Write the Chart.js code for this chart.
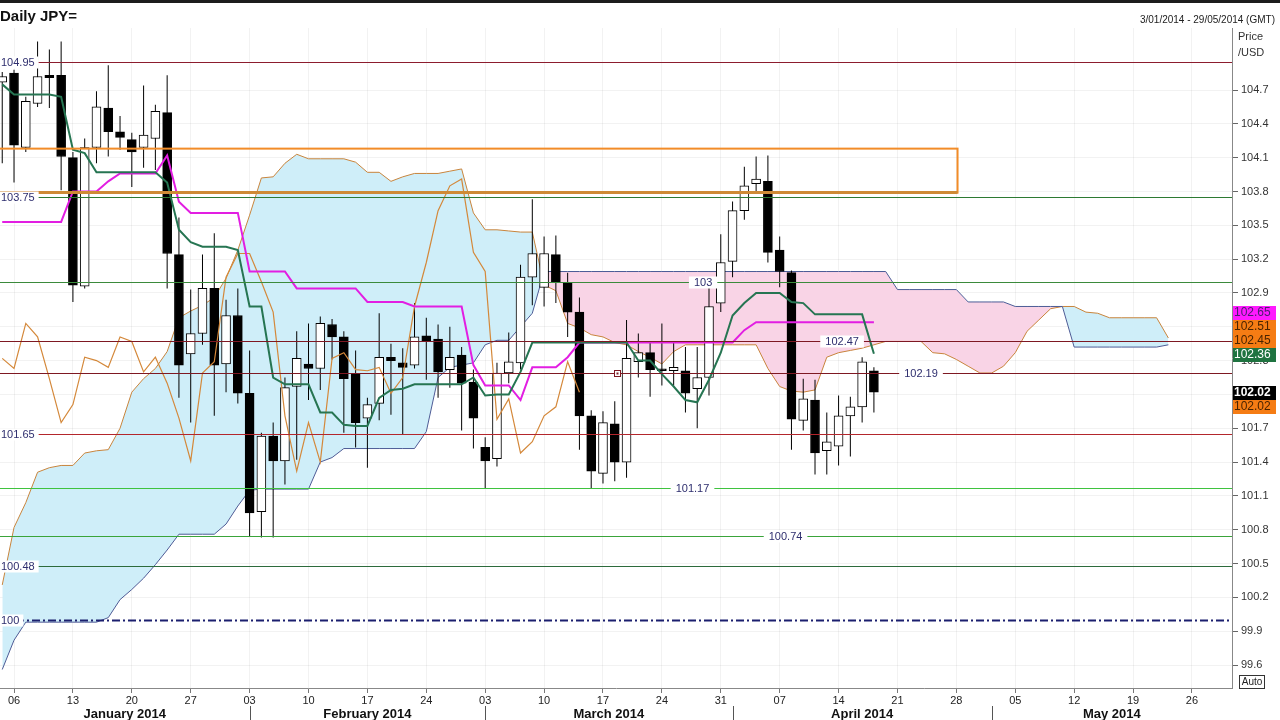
<!DOCTYPE html>
<html>
<head>
<meta charset="utf-8">
<script src="https://cdn.jsdelivr.net/npm/chart.js@4.4.1/dist/chart.umd.min.js"></script>
<style>
  body { margin: 0; background: #fff; }
  #wrap { width: 1280px; height: 720px; }
</style>
</head>
<body>
<div id="wrap"><canvas id="myChart"></canvas></div>
<script>
// daily candles, trading day 0 = 3 Jan 2014 ... 74 = 17 Apr 2014
const opens = [
  104.77, 104.85, 104.19, 104.58, 104.83, 104.83, 104.10, 102.96, 104.19, 104.54,
  104.33, 104.26, 104.19, 104.27, 104.50, 103.24, 102.36, 102.54, 102.94, 102.27,
  102.70, 102.01, 100.96, 101.63, 101.41, 102.07, 102.27, 102.23, 102.62, 102.51,
  102.18, 101.79, 101.92, 102.33, 102.28, 102.26, 102.52, 102.49, 102.22, 102.35,
  102.11, 101.53, 101.43, 102.19, 102.28, 103.04, 102.95, 103.24, 102.99, 102.73,
  101.81, 101.30, 101.74, 101.40, 102.29, 102.37, 102.22, 102.21, 102.21, 102.05,
  102.15, 102.81, 103.18, 103.63, 103.87, 103.89, 103.28, 103.08, 101.77, 101.95,
  101.50, 101.54, 101.81, 101.89, 102.21
]
const highs = [
  104.86, 104.88, 104.64, 105.13, 105.06, 105.13, 104.15, 104.27, 104.69, 104.92,
  104.47, 104.32, 104.74, 104.57, 104.83, 103.57, 102.93, 103.24, 103.43, 102.84,
  102.94, 102.39, 101.66, 101.75, 102.15, 102.56, 102.63, 102.69, 102.67, 102.56,
  102.39, 101.97, 102.72, 102.45, 102.41, 102.81, 102.68, 102.62, 102.60, 102.42,
  102.22, 101.62, 102.28, 102.55, 103.15, 103.73, 103.40, 103.41, 103.08, 102.86,
  101.86, 101.85, 101.94, 102.66, 102.54, 102.46, 102.63, 102.47, 102.42, 102.42,
  102.99, 103.42, 103.71, 104.02, 104.11, 104.12, 103.40, 103.10, 102.14, 102.13,
  101.84, 101.99, 101.98, 102.33, 102.24
]
const lows = [
  104.05, 103.88, 104.15, 104.55, 104.54, 103.81, 102.82, 102.94, 104.05, 104.11,
  104.17, 103.84, 104.01, 103.99, 102.94, 101.97, 101.75, 102.44, 101.81, 102.02,
  101.92, 100.74, 100.73, 100.73, 101.20, 101.42, 101.95, 102.04, 102.31, 101.66,
  101.53, 101.35, 101.77, 101.82, 101.64, 102.23, 102.13, 101.97, 102.06, 101.68,
  101.52, 101.17, 101.36, 102.10, 102.22, 102.79, 102.78, 102.81, 102.51, 101.51,
  101.17, 101.21, 101.23, 101.26, 102.15, 101.98, 102.08, 102.08, 101.84, 101.70,
  101.99, 102.73, 103.04, 103.55, 103.79, 103.17, 102.95, 101.51, 101.68, 101.29,
  101.29, 101.37, 101.45, 101.75, 101.84
]
const closes = [
  104.82, 104.21, 104.60, 104.82, 104.81, 104.11, 102.97, 104.19, 104.55, 104.33,
  104.28, 104.15, 104.30, 104.51, 103.25, 102.26, 102.54, 102.94, 102.26, 102.70,
  102.01, 100.95, 101.63, 101.41, 102.06, 102.32, 102.23, 102.63, 102.51, 102.14,
  101.75, 101.91, 102.33, 102.30, 102.24, 102.51, 102.47, 102.20, 102.33, 102.10,
  101.79, 101.41, 102.19, 102.29, 103.04, 103.25, 103.25, 103.00, 102.73, 101.81,
  101.32, 101.75, 101.40, 102.32, 102.37, 102.22, 102.21, 102.24, 102.01, 102.15,
  102.78, 103.17, 103.63, 103.85, 103.91, 103.26, 103.09, 101.78, 101.96, 101.48,
  101.58, 101.81, 101.89, 102.29, 102.02
]

// ichimoku lines as drawn
const tenkan = [
  104.75, 104.66, 104.66, 104.66, 104.66, 104.64, 104.17, 104.14, 103.97, 103.97,
  103.97, 103.97, 103.97, 103.97, 103.88, 103.46, 103.35, 103.31, 103.31, 103.31,
  103.28, 102.78, 102.78, 102.15, 102.09, 102.09, 102.09, 101.84, 101.84, 101.73,
  101.72, 101.72, 101.97, 102.04, 102.05, 102.09, 102.09, 102.09, 102.09, 102.09,
  102.15, 101.99, 102.00, 102.00, 102.20, 102.46, 102.46, 102.46, 102.46, 102.46,
  102.46, 102.46, 102.46, 102.46, 102.30, 102.30, 102.18, 102.07, 101.95, 101.93,
  102.13, 102.37, 102.70, 102.81, 102.90, 102.90, 102.90, 102.82, 102.81, 102.71,
  102.71, 102.71, 102.71, 102.71, 102.36
]
const kijun = [
  103.53, 103.53, 103.53, 103.53, 103.53, 103.53, 103.80, 103.80, 103.80, 103.89,
  103.96, 103.96, 103.96, 103.96, 104.12, 103.71, 103.61, 103.61, 103.61, 103.61,
  103.61, 103.09, 103.09, 103.09, 103.09, 102.94, 102.94, 102.94, 102.94, 102.94,
  102.94, 102.82, 102.82, 102.82, 102.82, 102.78, 102.78, 102.78, 102.78, 102.78,
  102.26, 102.08, 102.08, 102.08, 101.95, 102.24, 102.24, 102.24, 102.33, 102.46,
  102.46, 102.46, 102.46, 102.46, 102.46, 102.46, 102.46, 102.46, 102.46, 102.46,
  102.46, 102.46, 102.46, 102.57, 102.64, 102.64, 102.64, 102.64, 102.64, 102.64,
  102.64, 102.64, 102.64, 102.64, 102.64
]
const senkouA = [
  100.31, 100.82, 101.04, 101.31, 101.35, 101.37, 101.37, 101.48, 101.50, 101.51,
  101.70, 102.02, 102.14, 102.23, 102.38, 102.68, 102.74, 102.79, 102.86, 103.03,
  103.28, 103.59, 103.92, 103.93, 104.05, 104.13, 104.09, 104.09, 104.09, 104.09,
  104.06, 103.97, 103.97, 103.89, 103.93, 103.96, 103.96, 103.96, 103.98, 104.00,
  103.61, 103.46, 103.46, 103.45, 103.44, 103.44, 102.97, 102.92, 102.63, 102.59,
  102.53, 102.51, 102.46, 102.44, 102.38, 102.33, 102.27, 102.38, 102.44, 102.44,
  102.44, 102.44, 102.44, 102.44, 102.44, 102.23, 102.07, 102.03, 102.02, 102.04,
  102.33, 102.37, 102.39, 102.41, 102.44, 102.47, 102.47, 102.47, 102.47, 102.37,
  102.36, 102.31, 102.25, 102.19, 102.19, 102.25, 102.37, 102.56, 102.66, 102.76,
  102.78, 102.78, 102.73, 102.72, 102.68, 102.68, 102.68, 102.68, 102.68, 102.50
]
const senkouB = [
  99.56, 99.82, 99.98, 99.98, 99.98, 99.98, 99.98, 99.98, 99.98, 100.02,
  100.18, 100.27, 100.37, 100.49, 100.62, 100.76, 100.76, 100.76, 100.76, 100.85,
  101.01, 101.15, 101.16, 101.16, 101.16, 101.16, 101.16, 101.40, 101.44, 101.52,
  101.52, 101.52, 101.52, 101.52, 101.52, 101.52, 101.67, 102.15, 102.24, 102.26,
  102.28, 102.44, 102.48, 102.48, 102.60, 102.72, 103.09, 103.09, 103.09, 103.09,
  103.09, 103.09, 103.09, 103.09, 103.09, 103.09, 103.09, 103.09, 103.09, 103.09,
  103.09, 103.09, 103.09, 103.09, 103.09, 103.09, 103.09, 103.09, 103.09, 103.09,
  103.09, 103.09, 103.09, 103.09, 103.09, 103.09, 102.93, 102.93, 102.93, 102.93,
  102.93, 102.93, 102.82, 102.82, 102.82, 102.82, 102.78, 102.78, 102.78, 102.78,
  102.78, 102.42, 102.42, 102.42, 102.42, 102.42, 102.42, 102.42, 102.42, 102.44
]
const chikouShift = 25

const weekTicks = [1, 6, 11, 16, 21, 26, 31, 36, 41, 46, 51, 56, 61, 66, 71, 76, 81, 86, 91, 96, 101]
const weekLabels = ['06', '13', '20', '27', '03', '10', '17', '24', '03', '10', '17', '24', '31', '07', '14', '21', '28', '05', '12', '19', '26']
const monthStarts = [21, 41, 62, 84]
const monthNames = ['January 2014', 'February 2014', 'March 2014', 'April 2014', 'May 2014']
const priceTicks = [99.6, 99.9, 100.2, 100.5, 100.8, 101.1, 101.4, 101.7, 102.0, 102.3, 102.6, 102.9, 103.2, 103.5, 103.8, 104.1, 104.4, 104.7]

const levelValues = [104.95, 103.75, 103, 102.47, 102.19, 101.65, 101.17, 100.74, 100.48, 100]
const boxTop = 104.18
const boxBottom = 103.79
const boxEndDay = 81.1
const badgeValues = [102.65, 102.51, 102.45, 102.36, 102.02, 102.02]

const FONT = '"Liberation Sans", Arial, sans-serif'
const NARROW = '"Liberation Sans Narrow", "Liberation Sans", Arial, sans-serif'

// line look for each level, same order as levelValues (at = day index of label, -1 = left edge)
const levelLook = [
  { color: '#8c1d2e', at: -1 },
  { color: '#2d7a32', at: -1 },
  { color: '#3b8a3b', at: 59.5 },
  { color: '#7e1822', at: 71.3 },
  { color: '#7e1822', at: 78 },
  { color: '#b3262c', at: -1 },
  { color: '#3fc33f', at: 58.6 },
  { color: '#3aa43a', at: 66.5 },
  { color: '#2d6b3c', at: -1 },
  { color: '#1b1f6e', at: -1, dash: [8, 3, 2, 3], width: 2 }
]
const badgeFill = ['#ff1aff', '#f57c14', '#f57c14', '#1f7340', '#000000', '#f57c14']
const badgeInk = ['#4a2070', '#4a2400', '#4a2400', '#ffffff', '#ffffff', '#4a2400']

const pts = (arr) => arr.map((v, i) => ({ x: i, y: v }))

const decor = {
  id: 'decor',
  afterDatasetsDraw(chart) {
    const { ctx, chartArea: a, scales: { x, y } } = chart
    ctx.save()
    ctx.beginPath()
    ctx.rect(a.left, a.top, a.right - a.left, a.bottom - a.top)
    ctx.clip()

    // orange box
    const bx = x.getPixelForValue(boxEndDay)
    const t = y.getPixelForValue(boxTop)
    const b = y.getPixelForValue(boxBottom)
    ctx.strokeStyle = '#f28c28'
    ctx.lineWidth = 2
    ctx.strokeRect(a.left - 3, t, bx - a.left + 3, b - t)
    ctx.strokeStyle = '#cf8a36'
    ctx.lineWidth = 3
    ctx.beginPath(); ctx.moveTo(a.left, b); ctx.lineTo(bx, b); ctx.stroke()

    ctx.font = '11px ' + FONT
    ctx.textBaseline = 'middle'
    levelValues.forEach((v, i) => {
      const look = levelLook[i]
      const py = Math.round(y.getPixelForValue(v)) + 0.5
      ctx.strokeStyle = look.color
      ctx.lineWidth = look.width || 1
      ctx.setLineDash(look.dash || [])
      ctx.beginPath(); ctx.moveTo(a.left, py); ctx.lineTo(a.right, py); ctx.stroke()
      ctx.setLineDash([])
      const txt = String(v)
      const w = ctx.measureText(txt).width
      ctx.fillStyle = '#fff'
      if (look.at < 0) {
        ctx.fillRect(a.left, py - 6, w + 5, 12)
        ctx.fillStyle = '#2e2e6e'
        ctx.textAlign = 'left'
        ctx.fillText(txt, a.left + 1, py)
      } else {
        const px = x.getPixelForValue(look.at)
        ctx.fillRect(px - w / 2 - 5, py - 6, w + 10, 12)
        ctx.fillStyle = '#2e2e6e'
        ctx.textAlign = 'center'
        ctx.fillText(txt, px, py)
      }
    })

    // small anchor handle on the 102.19 line
    const hx = Math.round(x.getPixelForValue(52.2)) + 0.5
    const hy = Math.round(y.getPixelForValue(102.19)) + 0.5
    ctx.fillStyle = '#fff'
    ctx.fillRect(hx - 3, hy - 3, 6, 6)
    ctx.strokeStyle = '#7e1822'
    ctx.lineWidth = 1
    ctx.strokeRect(hx - 3, hy - 3, 6, 6)
    ctx.fillStyle = '#7e1822'
    ctx.fillRect(hx - 1, hy - 1, 2, 2)
    ctx.restore()
  },
  afterDraw(chart) {
    const { ctx, chartArea: a, scales: { x, y } } = chart
    ctx.save()
    ctx.fillStyle = '#1c1c1c'
    ctx.fillRect(0, 0, 1280, 3)

    ctx.textBaseline = 'middle'
    ctx.fillStyle = '#111'
    ctx.font = 'bold 15px ' + FONT
    ctx.textAlign = 'left'
    ctx.fillText('Daily JPY=', 0, 17)
    ctx.font = '10px ' + FONT
    ctx.textAlign = 'right'
    ctx.fillStyle = '#222'
    ctx.fillText('3/01/2014 - 29/05/2014 (GMT)', 1275, 20)

    ctx.textAlign = 'left'
    ctx.font = '11px ' + FONT
    ctx.fillStyle = '#333'
    ctx.fillText('Price', a.right + 6, 37)
    ctx.fillText('/USD', a.right + 6, 53)

    // value badges: last price anchored, higher ones stack up, equal ones hang below
    const ys = badgeValues.map(v => y.getPixelForValue(v))
    const pos = []
    const anchor = 4
    pos[anchor] = ys[anchor] + 1
    for (let i = anchor - 1; i >= 0; i--) pos[i] = Math.min(ys[i] + 1, pos[i + 1] - 14)
    for (let i = anchor + 1; i < ys.length; i++) pos[i] = Math.max(ys[i], pos[i - 1] + 14)
    badgeValues.forEach((v, i) => {
      ctx.fillStyle = badgeFill[i]
      ctx.fillRect(a.right + 1, Math.round(pos[i]) - 7, 43, 14)
      ctx.fillStyle = badgeInk[i]
      ctx.font = (i === anchor ? 'bold ' : '') + '12px ' + FONT
      ctx.fillText(v.toFixed(2), a.right + 2, Math.round(pos[i]))
    })

    // month separators and names
    const seps = [a.left].concat(monthStarts.map(d => x.getPixelForValue(d)), [a.right])
    ctx.strokeStyle = '#555'
    ctx.lineWidth = 1
    monthStarts.forEach(d => {
      const px = Math.round(x.getPixelForValue(d)) + 0.5
      ctx.beginPath(); ctx.moveTo(px, 706); ctx.lineTo(px, 720); ctx.stroke()
    })
    ctx.font = 'bold 13px ' + FONT
    ctx.fillStyle = '#111'
    ctx.textAlign = 'center'
    monthNames.forEach((m, i) => {
      ctx.fillText(m, (seps[i] + seps[i + 1]) / 2, 714)
    })

    // Auto box
    ctx.strokeStyle = '#333'
    ctx.strokeRect(a.right + 7.5, 675.5, 25, 13)
    ctx.font = '10px ' + FONT
    ctx.fillStyle = '#222'
    ctx.fillText('Auto', a.right + 20, 682)
    ctx.restore()
  }
}

const data = {
  datasets: [
    {
      type: 'line', label: 'Senkou A', data: pts(senkouA),
      borderColor: '#c8843c', borderWidth: 1, pointRadius: 0, tension: 0,
      fill: { target: 1, above: '#cfeef9', below: '#f9d4e6' }, order: 10
    },
    {
      type: 'line', label: 'Senkou B', data: pts(senkouB),
      borderColor: '#4c5c96', borderWidth: 1, pointRadius: 0, tension: 0, fill: false, order: 9
    },
    {
      type: 'bar', label: 'range', data: lows.map((l, i) => ({ x: i, y: [l, highs[i]] })),
      backgroundColor: '#000', barThickness: 1, grouped: false, inflateAmount: 0, order: 6
    },
    {
      type: 'bar', label: 'body', data: opens.map((o, i) => ({ x: i, y: [o, closes[i]] })),
      backgroundColor: closes.map((c, i) => c >= opens[i] ? '#fff' : '#000'),
      borderColor: '#000', borderWidth: 1, borderSkipped: false,
      barThickness: 9, minBarLength: 2, grouped: false, order: 5
    },
    {
      type: 'line', label: 'Chikou', data: pts(closes.slice(chikouShift)),
      borderColor: '#d4883a', borderWidth: 1.2, pointRadius: 0, tension: 0, order: 4
    },
    {
      type: 'line', label: 'Kijun', data: pts(kijun),
      borderColor: '#e21ee2', borderWidth: 2, pointRadius: 0, tension: 0, order: 3
    },
    {
      type: 'line', label: 'Tenkan', data: pts(tenkan),
      borderColor: '#267552', borderWidth: 2, pointRadius: 0, tension: 0, order: 2
    }
  ]
}

const config = {
  type: 'line',
  data: data,
  options: {
    responsive: true,
    maintainAspectRatio: false,
    animation: false,
    events: [],
    layout: { padding: { top: 28, left: 0, right: 0, bottom: 0 } },
    plugins: {
      legend: { display: false },
      tooltip: { enabled: false }
    },
    scales: {
      x: {
        type: 'linear',
        min: -0.19,
        max: 104.4,
        offset: false,
        bounds: 'data',
        afterBuildTicks: (s) => { s.ticks = weekTicks.map(v => ({ value: v })) },
        afterFit: (s) => { s.height = 32 },
        ticks: {
          autoSkip: false, maxRotation: 0, padding: 1,
          color: '#222', font: { family: NARROW, size: 11 },
          callback: (v, i) => weekLabels[i]
        },
        grid: { color: 'rgba(0,0,0,0.05)', tickLength: 5, tickColor: '#777', offset: false },
        border: { color: '#888' }
      },
      y: {
        type: 'linear',
        position: 'right',
        min: 99.396,
        max: 105.25,
        bounds: 'data',
        beginAtZero: false,
        afterBuildTicks: (s) => { s.ticks = priceTicks.map(v => ({ value: v })) },
        afterFit: (s) => { s.width = 48 },
        ticks: {
          padding: 3, color: '#333', font: { family: FONT, size: 11 },
          callback: (v) => Number(v).toFixed(1)
        },
        grid: { color: 'rgba(0,0,0,0.05)', tickLength: 6, tickColor: '#666' },
        border: { color: '#888' }
      }
    }
  },
  plugins: [decor]
}

const myChart = new Chart(document.getElementById('myChart'), config)
</script>
</body>
</html>
